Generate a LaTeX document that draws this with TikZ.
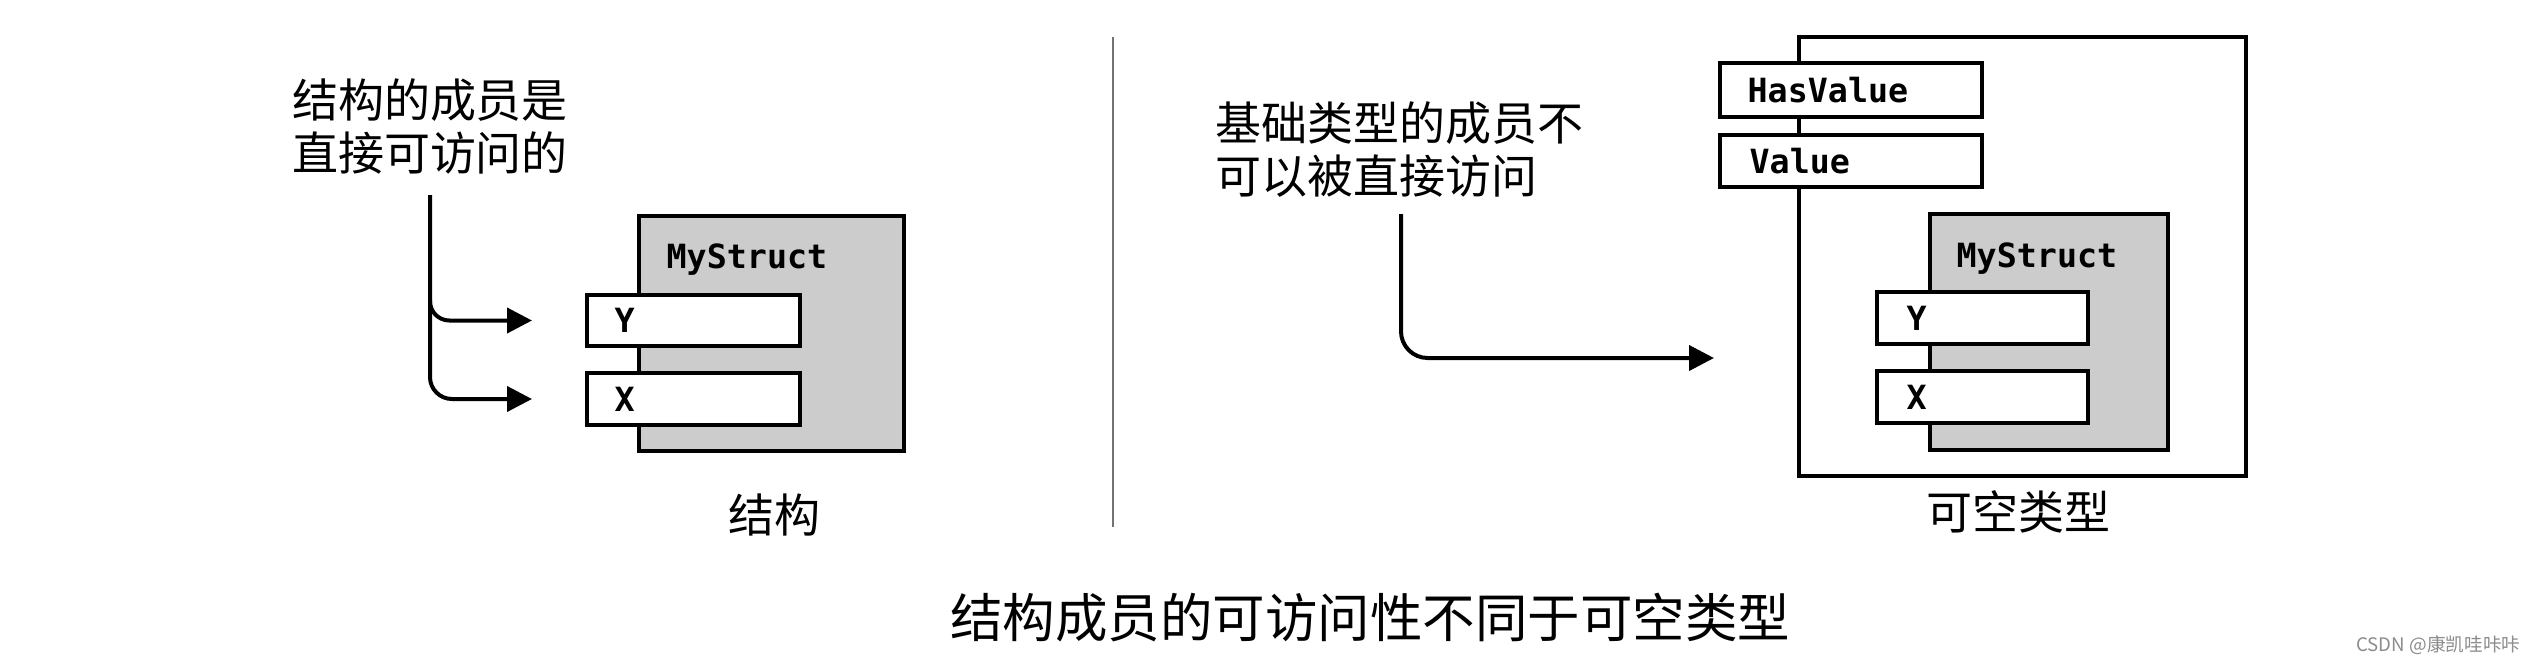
\documentclass[tikz,border=0pt]{standalone}
\usepackage{fontspec}
\setmainfont{Noto Sans CJK SC}
\newfontfamily\monof{DejaVu Sans Mono}
\usetikzlibrary{arrows.meta,calc}
\begin{document}
\begin{tikzpicture}[x=0.3pt,y=-0.3pt,
  box/.style={draw=black, line width=1.2pt, inner sep=0pt, rectangle},
  graybox/.style={box, fill=black!20},
  membox/.style={box, fill=white},
  mono/.style={font=\monof\bfseries\fontsize{10pt}{12pt}\selectfont, inner sep=0pt},
  cn/.style={font=\fontsize{13.8pt}{15.9pt}\selectfont, inner sep=0pt},
  conn/.style={line width=1.2pt, -{Triangle[length=7.5pt,width=7.5pt]}}]
\fill[white] (0,0) rectangle (2536,664);
\useasboundingbox (0,0) rectangle (2536,664);

% ---------- left: struct ----------
\node[cn, align=left] (ltext) at (430,126.5) {结构的成员是\\直接可访问的};
\node[graybox, minimum width=79.5pt, minimum height=70.5pt] (lstruct) at (771.5,333.5) {};
\node[mono, anchor=base west] (lms) at (666,268) {MyStruct};
\node[membox, minimum width=63.9pt, minimum height=15.3pt] (ly) at (693.5,320.5) {};
\node[membox, minimum width=63.9pt, minimum height=15.6pt] (lx) at (693.5,399) {};
\node[mono, anchor=west] (lyt) at (614,320) {Y};
\node[mono, anchor=west] (lxt) at (614,399) {X};
\node[cn] (lcap) at (774,515) {结构};

\coordinate (lstart) at (430,195);
\coordinate (lsplit) at (430,300);
\coordinate (ltipY) at ($(ly.west)+(-53,0)$);
\coordinate (ltipX) at ($(lx.west)+(-53,0)$);
\draw[conn, rounded corners=6.6pt] (lstart) |- (ltipX);
\draw[conn, rounded corners=5.8pt] (lsplit) |- (ltipY);

% ---------- divider ----------
\coordinate (dtop) at (1113,37);
\coordinate (dbot) at (1113,527);
\draw[line width=0.6pt, black!55] (dtop) -- (dbot);

% ---------- right: nullable ----------
\node[cn, align=left] (rtext) at (1399,150) {基础类型的成员不\\可以被直接访问};
\node[membox, minimum width=134.1pt, minimum height=131.7pt] (outer) at (2022.5,256.5) {};
\node[membox, minimum width=78.6pt, minimum height=16.2pt] (hv) at (1851,90) {};
\node[membox, minimum width=78.6pt, minimum height=15.6pt] (val) at (1851,161) {};
\node[mono, anchor=west] (hvt) at (1747,90) {HasValue};
\node[mono, anchor=west] (valt) at (1749,161) {Value};
\node[graybox, minimum width=71.4pt, minimum height=70.8pt] (rstruct) at (2049,332) {};
\node[mono, anchor=base west] (rms) at (1956,267) {MyStruct};
\node[membox, minimum width=63.3pt, minimum height=15.6pt] (ry) at (1982.5,318) {};
\node[membox, minimum width=63.3pt, minimum height=15.6pt] (rx) at (1982.5,397) {};
\node[mono, anchor=west] (ryt) at (1906,318) {Y};
\node[mono, anchor=west] (rxt) at (1906,397) {X};
\node[cn] (rcap) at (2018,512) {可空类型};

\coordinate (rstart) at (1401,214);
\coordinate (rtip) at (1714,358);
\draw[conn, rounded corners=8pt] (rstart) |- (rtip);

% ---------- caption ----------
\node[font=\fontsize{15.75pt}{18pt}\selectfont, inner sep=0pt] (cap) at (1370,618) {结构成员的可访问性不同于可空类型};
\node[font=\fontsize{5.6pt}{7pt}\selectfont, text=black!45, anchor=east, inner sep=0pt] (wm) at (2521,645) {CSDN @康凯哇咔咔};
\end{tikzpicture}
\end{document}
